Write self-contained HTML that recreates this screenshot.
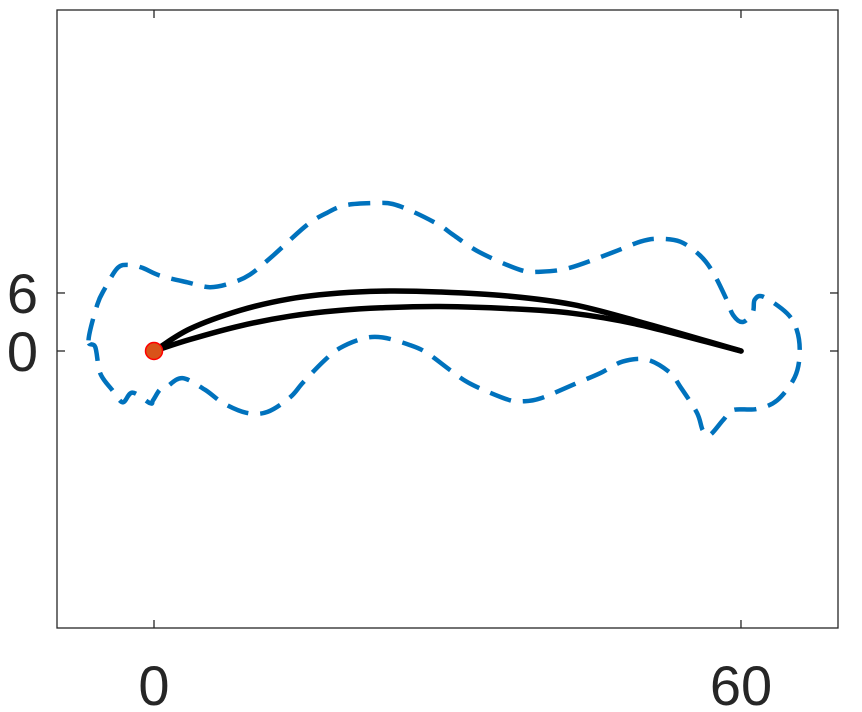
<!DOCTYPE html>
<html><head><meta charset="utf-8"><style>
html,body{margin:0;padding:0;background:#fff;}
svg{display:block;font-family:"Liberation Sans",Arial,sans-serif;}
</style></head><body>
<svg id="chart" width="862" height="712" viewBox="0 0 862 712">
<rect x="57" y="10" width="781" height="618" fill="#fff" stroke="#262626" stroke-width="1.3"/>
<g id="ticks"></g>
<g id="plot"></g>
</svg>
<script>
const xTicks = [0, 60];
const yTicks = [0, 6];
const xTickLabels = ["0", "60"];
const yTickLabels = ["0", "6"];
const boundaryX = [-6.7,-5.8,-5.0,-3.7,-2.5,-1.2,0.6,3.4,5.7,7.8,9.8,12.2,15.6,17.7,19.7,22.8,24.4,26.5,29.2,30.6,33.3,37.4,39.5,42.5,46.9,49.7,51.5,53.8,55.8,57.1,58.4,59.2,60.2,61.2,61.4,62.3,64.7,65.7,66.0,65.5,63.7,61.6,59.2,58.2,56.8,56.1,55.5,53.8,52.7,50.4,47.9,45.6,43.5,39.5,37.6,36.4,34.3,32.0,30.3,27.9,26.2,23.4,21.4,19.0,17.3,15.2,13.9,11.6,9.5,7.1,5.2,2.9,1.3,0.6,-0.1,-0.4,-2.2,-3.2,-4.3,-5.5,-6.0,-6.7];
const boundaryY = [1.1,4.8,6.5,8.6,8.9,8.6,7.8,7.1,6.6,7.0,7.9,9.9,13.0,14.3,15.1,15.3,15.2,14.4,13.0,12.0,10.2,8.4,8.2,8.6,10.2,11.3,11.6,11.3,9.9,8.2,5.6,3.7,3.0,4.0,5.3,5.6,3.9,2.2,-0.2,-2.7,-5.1,-6.0,-6.1,-7.1,-8.7,-8.2,-6.4,-3.7,-2.2,-0.9,-1.1,-2.3,-3.2,-4.9,-5.2,-5.1,-4.3,-3.2,-2.0,-0.2,0.6,1.4,1.3,0.3,-1.1,-3.3,-4.8,-6.3,-6.4,-5.4,-4.0,-2.8,-3.7,-4.0,-5.1,-5.4,-4.3,-5.3,-4.0,-2.3,0.4,1.1];
const upperX = [0,3.7,8.8,13.9,19.0,24.1,29.2,36.0,42.8,49.7,60];
const upperY = [0,2.3,4.2,5.4,6.0,6.2,6.1,5.7,4.8,3.0,0];
const lowerX = [0,3.7,8.8,13.9,19.0,24.1,29.2,36.0,42.8,49.7,60];
const lowerY = [0,1.2,2.6,3.6,4.2,4.5,4.6,4.4,3.9,2.7,0];
const startPoint = [0, 0];

const NS = "http://www.w3.org/2000/svg";
function sx(x){ return 154 + x * 9.783; }
function sy(y){ return 351 - y * 9.67; }
function smooth(xs, ys, closed){
  const p = xs.map((x,i)=>[sx(x), sy(ys[i])]);
  const n = p.length;
  function get(i){
    if (i < 0) return closed ? p[n-2] : [2*p[0][0]-p[1][0], 2*p[0][1]-p[1][1]];
    if (i > n-1) return closed ? p[1] : [2*p[n-1][0]-p[n-2][0], 2*p[n-1][1]-p[n-2][1]];
    return p[i];
  }
  let d = "M" + p[0][0].toFixed(1) + "," + p[0][1].toFixed(1);
  for (let i=0;i<n-1;i++){
    const p0=get(i-1), p1=p[i], p2=p[i+1], p3=get(i+2);
    const c1=[p1[0]+(p2[0]-p0[0])/6, p1[1]+(p2[1]-p0[1])/6];
    const c2=[p2[0]-(p3[0]-p1[0])/6, p2[1]-(p3[1]-p1[1])/6];
    d += " C"+c1[0].toFixed(1)+","+c1[1].toFixed(1)+" "+c2[0].toFixed(1)+","+c2[1].toFixed(1)+" "+p2[0].toFixed(1)+","+p2[1].toFixed(1);
  }
  return d;
}
const ticks = document.getElementById("ticks");
const plot = document.getElementById("plot");
xTicks.forEach((t,i)=>{
  const x = sx(t);
  const l1 = document.createElementNS(NS,"line");
  l1.setAttribute("x1",x); l1.setAttribute("x2",x); l1.setAttribute("y1",628); l1.setAttribute("y2",620);
  l1.setAttribute("stroke","#262626"); l1.setAttribute("stroke-width","1.3");
  
  
  ticks.appendChild(l1);
  const l2 = document.createElementNS(NS,"line");
  l2.setAttribute("x1",x); l2.setAttribute("x2",x); l2.setAttribute("y1",10); l2.setAttribute("y2",18);
  l2.setAttribute("stroke","#262626"); l2.setAttribute("stroke-width","1.3");
  
  
  ticks.appendChild(l2);
  const tx = document.createElementNS(NS,"text");
  tx.setAttribute("x",x); tx.setAttribute("y",705); tx.setAttribute("text-anchor","middle");
  tx.setAttribute("font-size","56"); tx.setAttribute("fill","#262626");
  tx.textContent = xTickLabels[i];
  
  
  ticks.appendChild(tx);
});
yTicks.forEach((t,i)=>{
  const y = sy(t);
  const l1 = document.createElementNS(NS,"line");
  l1.setAttribute("x1",57); l1.setAttribute("x2",65); l1.setAttribute("y1",y); l1.setAttribute("y2",y);
  l1.setAttribute("stroke","#262626"); l1.setAttribute("stroke-width","1.3");
  
  
  ticks.appendChild(l1);
  const l2 = document.createElementNS(NS,"line");
  l2.setAttribute("x1",830); l2.setAttribute("x2",838); l2.setAttribute("y1",y); l2.setAttribute("y2",y);
  l2.setAttribute("stroke","#262626"); l2.setAttribute("stroke-width","1.3");
  
  
  ticks.appendChild(l2);
  const tx = document.createElementNS(NS,"text");
  tx.setAttribute("x",38); tx.setAttribute("y",y+20); tx.setAttribute("text-anchor","end");
  tx.setAttribute("font-size","56"); tx.setAttribute("fill","#262626");
  tx.textContent = yTickLabels[i];
  
  
  ticks.appendChild(tx);
});
const b = document.createElementNS(NS,"path");
b.setAttribute("d", smooth(boundaryX, boundaryY, true));
b.setAttribute("fill","none"); b.setAttribute("stroke","#0072BD"); b.setAttribute("stroke-width","4.5");
b.setAttribute("stroke-dasharray","22 12"); b.setAttribute("stroke-linejoin","round");


plot.appendChild(b);
[[upperX,upperY,'upper-curve'],[lowerX,lowerY,'lower-curve']].forEach(c=>{
  const p = document.createElementNS(NS,"path");
  p.setAttribute("d", smooth(c[0], c[1], false));
  p.setAttribute("fill","none"); p.setAttribute("stroke","#000"); p.setAttribute("stroke-width","5.5");
  p.setAttribute("stroke-linecap","round");
  
  
  plot.appendChild(p);
});
const dot = document.createElementNS(NS,"circle");
dot.setAttribute("cx", sx(startPoint[0])); dot.setAttribute("cy", sy(startPoint[1])); dot.setAttribute("r","8.5");
dot.setAttribute("fill","#D95319"); dot.setAttribute("stroke","#FF0000"); dot.setAttribute("stroke-width","1.5");


plot.appendChild(dot);
</script>
</body></html>
